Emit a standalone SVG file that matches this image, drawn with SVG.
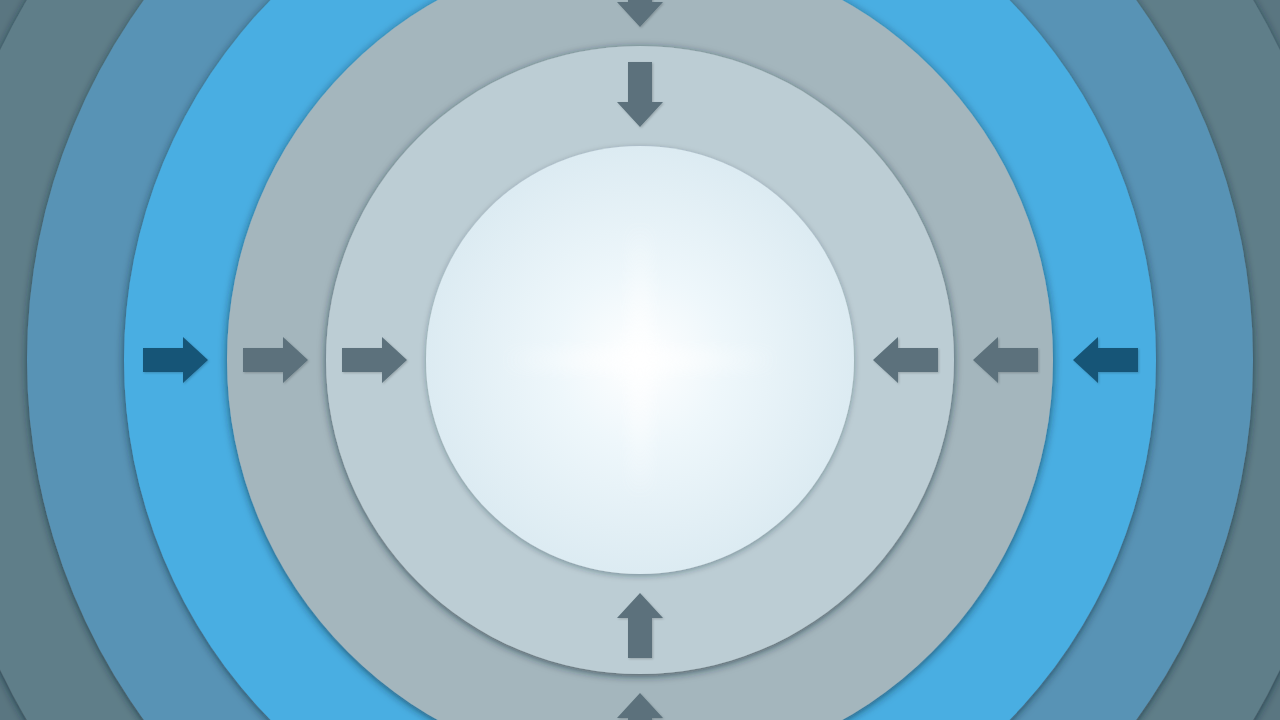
<svg xmlns="http://www.w3.org/2000/svg" xmlns:xlink="http://www.w3.org/1999/xlink" width="1280" height="720" viewBox="0 0 1280 720">
  <defs>
    <filter id="shadow" x="-20%" y="-20%" width="140%" height="140%">
      <feDropShadow dx="0" dy="2" stdDeviation="4.5" flood-color="#0b2533" flood-opacity="0.65"/>
    </filter>
    <filter id="shadowCore" x="-20%" y="-20%" width="140%" height="140%">
      <feDropShadow dx="0" dy="2" stdDeviation="3" flood-color="#0b2533" flood-opacity="0.35"/>
    </filter>
    <filter id="ashadow" x="-20%" y="-20%" width="140%" height="140%">
      <feDropShadow dx="1" dy="1" stdDeviation="1" flood-color="#000" flood-opacity="0.2"/>
    </filter>
    <radialGradient id="core" cx="0.5" cy="0.5" r="0.5">
      <stop offset="0" stop-color="#ffffff"/>
      <stop offset="0.4" stop-color="#eef7fb"/>
      <stop offset="1" stop-color="#dcebf2"/>
    </radialGradient>
    <linearGradient id="glintH" x1="0" y1="0" x2="1" y2="0">
      <stop offset="0" stop-color="#ffffff" stop-opacity="0"/>
      <stop offset="0.5" stop-color="#ffffff" stop-opacity="0.8"/>
      <stop offset="1" stop-color="#ffffff" stop-opacity="0"/>
    </linearGradient>
    <linearGradient id="glintV" x1="0" y1="0" x2="0" y2="1">
      <stop offset="0" stop-color="#ffffff" stop-opacity="0"/>
      <stop offset="0.5" stop-color="#ffffff" stop-opacity="0.8"/>
      <stop offset="1" stop-color="#ffffff" stop-opacity="0"/>
    </linearGradient>
    <filter id="soft"><feGaussianBlur stdDeviation="6"/></filter>
    <path id="arrow" d="M0,0 L-25,-23 L-25,-12 L-65,-12 L-65,12 L-25,12 L-25,23 Z"/>
    <style>
      .ring { filter: url(#shadow); }
      .a-gray { fill: #5b717b; }
      .a-navy { fill: #175577; }
    </style>
  </defs>

  <rect id="background" x="0" y="0" width="1280" height="720" fill="#5a7681"/>

  <g id="ring-outer">
    <circle class="ring" cx="640" cy="360" r="711" fill="#5f7e89"/>
  </g>
  <g id="ring-steel">
    <circle class="ring" cx="640" cy="360" r="613" fill="#5993b5"/>
  </g>
  <g id="ring-blue">
    <circle class="ring" cx="640" cy="360" r="516" fill="#4aaee2"/>
  </g>
  <g id="ring-medium">
    <circle class="ring" cx="640" cy="360" r="413" fill="#a4b6bd"/>
  </g>
  <g id="ring-light">
    <circle class="ring" cx="640" cy="360" r="314" fill="#bccdd4"/>
  </g>
  <g id="core-circle">
    <circle cx="640" cy="360" r="214" fill="url(#core)" filter="url(#shadowCore)"/>
    <g filter="url(#soft)" opacity="0.8">
      <rect x="500" y="348" width="280" height="24" fill="url(#glintH)"/>
      <rect x="628" y="220" width="24" height="280" fill="url(#glintV)"/>
    </g>
  </g>

  <g id="connectors" filter="url(#ashadow)">
    <use href="#arrow" class="a-navy" transform="translate(208,360)"/>
    <use href="#arrow" class="a-gray" transform="translate(308,360)"/>
    <use href="#arrow" class="a-gray" transform="translate(407,360)"/>
    <use href="#arrow" class="a-gray" transform="translate(873,360) rotate(180)"/>
    <use href="#arrow" class="a-gray" transform="translate(973,360) rotate(180)"/>
    <use href="#arrow" class="a-navy" transform="translate(1073,360) rotate(180)"/>
    <use href="#arrow" class="a-gray" transform="translate(640,27) rotate(90)"/>
    <use href="#arrow" class="a-gray" transform="translate(640,127) rotate(90)"/>
    <use href="#arrow" class="a-gray" transform="translate(640,593) rotate(-90)"/>
    <use href="#arrow" class="a-gray" transform="translate(640,693) rotate(-90)"/>
  </g>
</svg>
